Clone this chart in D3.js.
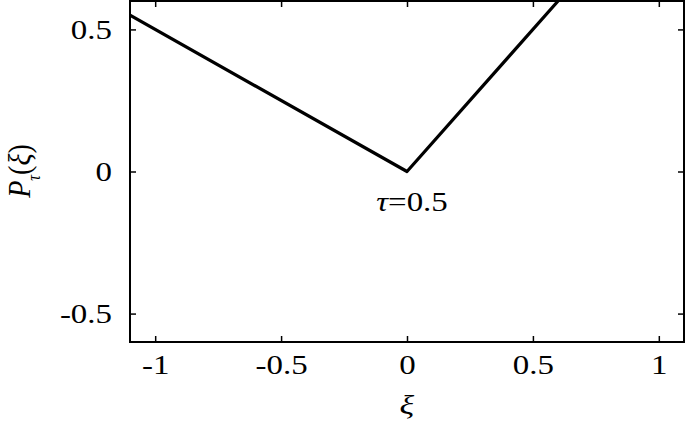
<!DOCTYPE html>
<html>
<head>
<meta charset="utf-8">
<script src="https://cdn.jsdelivr.net/npm/d3@7"></script>
<style>
  body { margin: 0; background: #fff; }
  svg text { font-family: "Liberation Serif", "Times New Roman", serif; fill: #000; }
  .stretch { transform-box: fill-box; transform-origin: center; transform: scaleX(1.22); }
  .stretchR { transform-box: fill-box; transform-origin: right center; transform: scaleX(1.22); }
</style>
</head>
<body>
<svg width="685" height="424"></svg>
<script>
// pinball loss, tau = 0.5
var xi = [-1.1, 0, 0.6];
var loss = [0.55, 0, 0.6];

var xTicks = [-1, -0.5, 0, 0.5, 1];
var yTicks = [-0.5, 0, 0.5];

var svg = d3.select("svg"),
    margin = {top: 1, right: 1, bottom: 82, left: 130},
    width = +svg.attr("width") - margin.left - margin.right,
    height = +svg.attr("height") - margin.top - margin.bottom;

var g = svg.append("g").attr("transform", "translate(" + margin.left + "," + margin.top + ")");

var x = d3.scaleLinear().domain([-1.1, 1.1]).range([0, width]);
var y = d3.scaleLinear().domain([-0.6, 0.6]).range([height, 0]);

var fmt = function(d) { return String(d); };

// bottom axis with labels
var xAxis = g.append("g")
    .attr("transform", "translate(0," + height + ")")
    .call(d3.axisBottom(x).tickValues(xTicks).tickFormat(fmt).tickSizeInner(-6).tickSizeOuter(0).tickPadding(13));
xAxis.selectAll("text").attr("font-size", 27).attr("dy", "0.71em").attr("class", "stretch");

// top axis, ticks only
g.append("g")
    .call(d3.axisTop(x).tickValues(xTicks).tickFormat("").tickSizeInner(-6).tickSizeOuter(0));

// left axis with labels
var yAxis = g.append("g")
    .call(d3.axisLeft(y).tickValues(yTicks).tickFormat(fmt).tickSizeInner(-6).tickSizeOuter(0).tickPadding(18));
yAxis.selectAll("text").attr("font-size", 27).attr("class", "stretchR");

// right axis, ticks only
g.append("g")
    .attr("transform", "translate(" + width + ",0)")
    .call(d3.axisRight(y).tickValues(yTicks).tickFormat("").tickSizeInner(-6).tickSizeOuter(0));

g.selectAll(".domain").remove();
g.selectAll(".tick line").attr("stroke", "#000").attr("stroke-width", 1.5);

// frame
g.append("rect")
    .attr("width", width)
    .attr("height", height)
    .attr("fill", "none")
    .attr("stroke", "#000")
    .attr("stroke-width", 2);

// clip the curve to the plot box
g.append("clipPath").attr("id", "clip")
  .append("rect").attr("width", width).attr("height", height);

var pts = xi.map(function(d, i) { return [d, loss[i]]; });

g.append("path")
    .datum(pts)
    .attr("clip-path", "url(#clip)")
    .attr("fill", "none")
    .attr("stroke", "#000")
    .attr("stroke-width", 3.2)
    .attr("stroke-linejoin", "round")
    .attr("d", d3.line().x(function(d) { return x(d[0]); }).y(function(d) { return y(d[1]); }));

// annotation
g.append("text")
    .attr("x", x(0.02))
    .attr("y", y(-0.14))
    .attr("text-anchor", "middle")
    .attr("font-size", 27)
    .attr("class", "stretch")
    .html('<tspan font-style="italic">τ</tspan>=0.5');

// x label
svg.append("text")
    .attr("x", margin.left + x(0))
    .attr("y", 414)
    .attr("text-anchor", "middle")
    .attr("font-size", 28)
    .attr("font-style", "italic")
    .attr("class", "stretch")
    .text("ξ");

// y label
var yl = svg.append("text")
    .attr("transform", "translate(30,171) scale(1.15,1) rotate(-90)")
    .attr("text-anchor", "middle")
    .attr("font-size", 28);
yl.append("tspan").attr("font-style", "italic").text("P");
yl.append("tspan").attr("font-style", "italic").attr("font-size", 16).attr("dy", 9).text("τ");
yl.append("tspan").attr("dy", -9).text("(");
yl.append("tspan").attr("font-style", "italic").text("ξ");
yl.append("tspan").text(")");
</script>
</body>
</html>
